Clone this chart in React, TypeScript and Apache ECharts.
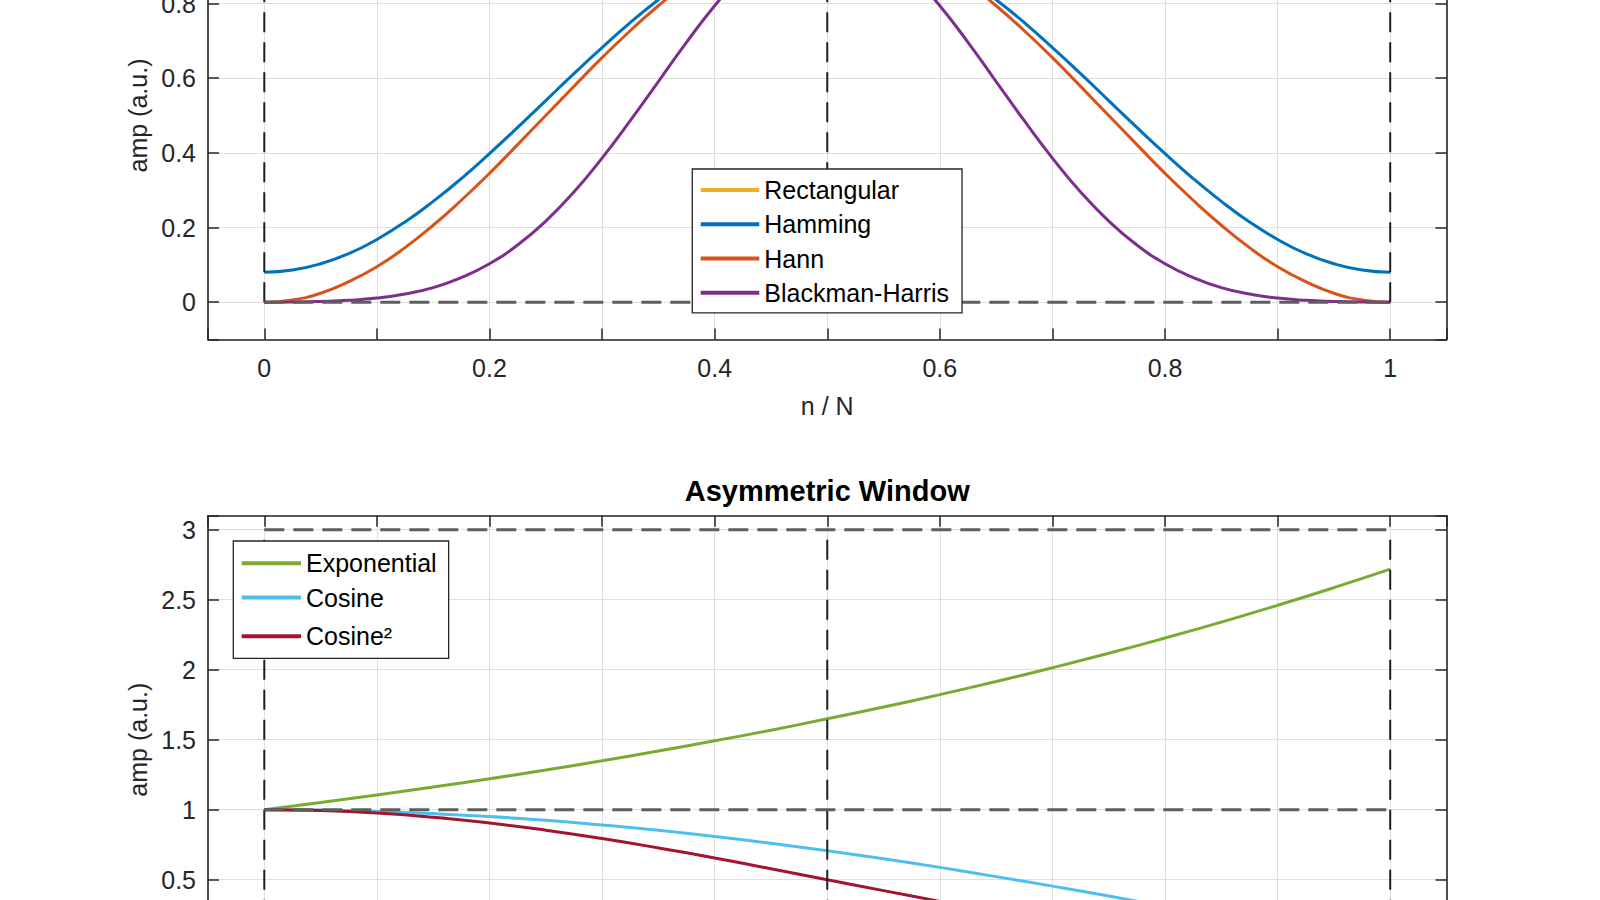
import React, { useEffect, useRef } from "react";
import * as echarts from "echarts";

// ---------- data ----------
// symmetric windows (upper panel)
const nSym = [0, 0.025, 0.05, 0.075, 0.1, 0.125, 0.15, 0.175, 0.2, 0.225, 0.25, 0.275, 0.3, 0.325, 0.35, 0.375, 0.4, 0.425, 0.45, 0.475, 0.5,
  0.525, 0.55, 0.575, 0.6, 0.625, 0.65, 0.675, 0.7, 0.725, 0.75, 0.775, 0.8, 0.825, 0.85, 0.875, 0.9, 0.925, 0.95, 0.975, 1];
const rectX = [0, 1];
const rectangular = [1, 1];
const hamming = [0.08, 0.086, 0.103, 0.13, 0.168, 0.215, 0.27, 0.331, 0.398, 0.468, 0.54, 0.612, 0.682, 0.749, 0.81, 0.865, 0.912, 0.95, 0.978, 0.994, 1,
  0.994, 0.978, 0.95, 0.912, 0.865, 0.81, 0.749, 0.682, 0.612, 0.54, 0.468, 0.398, 0.331, 0.27, 0.215, 0.168, 0.13, 0.103, 0.086, 0.08];
const hann = [0, 0.006, 0.024, 0.055, 0.095, 0.146, 0.206, 0.273, 0.345, 0.422, 0.5, 0.578, 0.655, 0.727, 0.794, 0.854, 0.905, 0.946, 0.976, 0.994, 1,
  0.994, 0.976, 0.946, 0.905, 0.854, 0.794, 0.727, 0.655, 0.578, 0.5, 0.422, 0.345, 0.273, 0.206, 0.146, 0.095, 0.055, 0.024, 0.006, 0];
const blackmanHarris = [0, 0.0004, 0.002, 0.005, 0.011, 0.022, 0.039, 0.066, 0.103, 0.153, 0.217, 0.295, 0.386, 0.486, 0.591, 0.696, 0.794, 0.879, 0.944, 0.986, 1,
  0.986, 0.944, 0.879, 0.794, 0.696, 0.591, 0.486, 0.386, 0.295, 0.217, 0.153, 0.103, 0.066, 0.039, 0.022, 0.011, 0.005, 0.002, 0.0004, 0];

// asymmetric windows (lower panel)
const nAsym = [0, 0.05, 0.1, 0.15, 0.2, 0.25, 0.3, 0.35, 0.4, 0.45, 0.5, 0.55, 0.6, 0.65, 0.7, 0.75, 0.8, 0.85, 0.9, 0.95, 1];
const exponential = [1, 1.051, 1.105, 1.162, 1.221, 1.284, 1.35, 1.419, 1.492, 1.568, 1.649, 1.733, 1.822, 1.916, 2.014, 2.117, 2.226, 2.34, 2.46, 2.586, 2.718];
const cosine = [1, 0.997, 0.988, 0.972, 0.951, 0.924, 0.891, 0.853, 0.809, 0.76, 0.707, 0.649, 0.588, 0.522, 0.454, 0.383, 0.309, 0.233, 0.156, 0.078, 0];
const cosineSq = [1, 0.994, 0.976, 0.946, 0.905, 0.854, 0.794, 0.727, 0.655, 0.578, 0.5, 0.422, 0.345, 0.273, 0.206, 0.146, 0.095, 0.054, 0.024, 0.006, 0];

const symNames = ["Rectangular", "Hamming", "Hann", "Blackman-Harris"];
const asymNames = ["Exponential", "Cosine", "Cosine²"];

const xTickLabels = [0, 0.2, 0.4, 0.6, 0.8, 1];
const symYTickLabels = [0, 0.2, 0.4, 0.6, 0.8, 1];
const asymYTickLabels = [0.5, 1, 1.5, 2, 2.5, 3];

// dashed guide lines (values in data units)
const symGuideX = [0, 0.5, 1];
const symGuideY = [0, 1];
const symGuideSpanX = [0, 1];
const symGuideSpanY = [0, 1];
const asymGuideX = [0, 0.5, 1];
const asymGuideY = [1, 3];
const asymGuideSpanX = [0, 1];
const asymGuideSpanY = [0, 3];

// ---------- styling ----------
const FONT = "'Liberation Sans', Arial, Helvetica, sans-serif";
const AXIS = "#262626";
const GRIDC = "#dfdfdf";
const COLORS: Record<string, string> = {
  Rectangular: "#EDB120",
  Hamming: "#0072BD",
  Hann: "#D95319",
  "Blackman-Harris": "#7E2F8E",
  Exponential: "#77AC30",
  Cosine: "#4DBEEE",
  "Cosine²": "#A2142F",
};

const OY = 200; // chart div is shifted up by this much
const G1 = { left: 208, top: -108.5 + OY, width: 1238.5, height: 448 };
const G2 = { left: 208, top: 515.7 + OY, width: 1238.5, height: 448 };

const pick = (list: number[]) => (v: number) => {
  const hit = list.find((t) => Math.abs(t - v) < 1e-6);
  return hit === undefined ? "" : String(hit);
};

function App() {
  const ref = useRef<HTMLDivElement>(null);

  useEffect(() => {
    if (!ref.current) return;
    const chart = echarts.init(ref.current, undefined, { renderer: "svg" });

    const axisLine = { show: true, onZero: false, lineStyle: { color: AXIS, width: 1.6 } };
    const axisTick = { show: true, inside: true, length: 11, lineStyle: { color: AXIS, width: 1.5 } };
    const xScale = { type: "value", min: -0.05, max: 1.05, minInterval: 0.1, maxInterval: 0.1, splitNumber: 11 };

    const xAxes = [0, 1].flatMap((g) => [
      {
        ...xScale,
        gridIndex: g,
        position: "bottom",
        axisLine,
        axisTick,
        axisLabel: {
          show: g === 0,
          margin: 16,
          fontSize: 25,
          color: AXIS,
          fontFamily: FONT,
          formatter: pick(xTickLabels),
        },
        splitLine: { show: true, lineStyle: { color: GRIDC, width: 1 } },
        name: g === 0 ? "n / N" : "",
        nameLocation: "middle",
        nameGap: 54,
        nameTextStyle: { fontSize: 25, color: AXIS, fontFamily: FONT },
      },
      {
        ...xScale,
        gridIndex: g,
        position: "top",
        axisLine,
        axisTick,
        axisLabel: { show: false },
        splitLine: { show: false },
      },
    ]);

    const yDefs = [
      { min: -0.1, max: 1.1, iv: 0.2, labels: symYTickLabels },
      { min: -0.1, max: 3.1, iv: 0.5, labels: asymYTickLabels },
    ];
    const yAxes = yDefs.flatMap((d, g) => [
      {
        type: "value",
        gridIndex: g,
        position: "left",
        min: d.min,
        max: d.max,
        minInterval: d.iv,
        maxInterval: d.iv,
        splitNumber: 6,
        axisLine,
        axisTick,
        axisLabel: { margin: 12, fontSize: 25, color: AXIS, fontFamily: FONT, formatter: pick(d.labels) },
        splitLine: { show: true, lineStyle: { color: GRIDC, width: 1 } },
        name: "amp (a.u.)",
        nameLocation: "middle",
        nameGap: 55,
        nameTextStyle: { fontSize: 25, color: AXIS, fontFamily: FONT },
      },
      {
        type: "value",
        gridIndex: g,
        position: "right",
        min: d.min,
        max: d.max,
        minInterval: d.iv,
        maxInterval: d.iv,
        splitNumber: 6,
        axisLine,
        axisTick,
        axisLabel: { show: false },
        splitLine: { show: false },
      },
    ]);

    const curve = (name: string, xs: number[], ys: number[], g: number) => ({
      type: "line",
      name,
      xAxisIndex: g * 2,
      yAxisIndex: g * 2,
      data: xs.map((x, i) => [x, ys[i]]),
      symbol: "none",
      showSymbol: false,
      smooth: 0.5,
      lineStyle: { color: COLORS[name], width: 3 },
      itemStyle: { color: COLORS[name] },
      silent: true,
    });

    const guide = (pts: number[][], g: number, vertical: boolean) => ({
      type: "line",
      xAxisIndex: g * 2,
      yAxisIndex: g * 2,
      data: pts,
      symbol: "none",
      showSymbol: false,
      silent: true,
      lineStyle: vertical
        ? { color: "#1e1e1e", width: 2, type: [20, 10] }
        : { color: "#5e5e5e", width: 3, type: [20, 9] },
    });

    const guides = (gx: number[], gy: number[], spanX: number[], spanY: number[], g: number) => [
      ...gx.map((x) => guide([[x, spanY[0]], [x, spanY[1]]], g, true)),
      ...gy.map((y) => guide([[spanX[0], y], [spanX[1], y]], g, false)),
    ];

    const series = [
      curve(symNames[0], rectX, rectangular, 0),
      curve(symNames[1], nSym, hamming, 0),
      curve(symNames[2], nSym, hann, 0),
      curve(symNames[3], nSym, blackmanHarris, 0),
      curve(asymNames[0], nAsym, exponential, 1),
      curve(asymNames[1], nAsym, cosine, 1),
      curve(asymNames[2], nAsym, cosineSq, 1),
      ...guides(symGuideX, symGuideY, symGuideSpanX, symGuideSpanY, 0),
      ...guides(asymGuideX, asymGuideY, asymGuideSpanX, asymGuideSpanY, 1),
    ];

    const legendBase = {
      orient: "vertical",
      itemGap: 0,
      itemHeight: 4,
      icon: "rect",
      selectedMode: false,
      backgroundColor: "#ffffff",
      borderColor: AXIS,
      borderWidth: 1.3,
      borderRadius: 0,
    };

    chart.setOption({
      animation: false,
      textStyle: { fontFamily: FONT },
      grid: [
        { ...G1, containLabel: false },
        { ...G2, containLabel: false },
      ],
      xAxis: xAxes,
      yAxis: yAxes,
      legend: [
        {
          ...legendBase,
          data: symNames,
          left: 692.3,
          top: 169 + OY,
          padding: [4, 13, 3, 8.4],
          itemWidth: 58.6,
          textStyle: { fontSize: 25, lineHeight: 34.2, color: "#000", fontFamily: FONT },
        },
        {
          ...legendBase,
          data: [
            asymNames[0],
            asymNames[1],
            { name: asymNames[2], textStyle: { fontSize: 25, lineHeight: 43, color: "#000", fontFamily: FONT } },
          ],
          left: 233.3,
          top: 541 + OY,
          padding: [5, 12, 0.5, 8.4],
          itemWidth: 59.3,
          textStyle: { fontSize: 25, lineHeight: 34.4, color: "#000", fontFamily: FONT },
        },
      ],
      graphic: [
        {
          type: "text",
          x: G2.left + G2.width / 2,
          y: 476 + OY,
          silent: true,
          style: {
            text: "Asymmetric Window",
            align: "center",
            verticalAlign: "top",
            fontSize: 29,
            fontWeight: "bold",
            fontFamily: FONT,
            fill: "#000",
          },
        },
      ],
      series,
    });

    return () => chart.dispose();
  }, []);

  return (
    <div
      ref={ref}
      style={{ position: "fixed", left: 0, top: -OY, width: 1600, height: 1200, overflow: "hidden", background: "#fff" }}
    />
  );
}

export default App;
